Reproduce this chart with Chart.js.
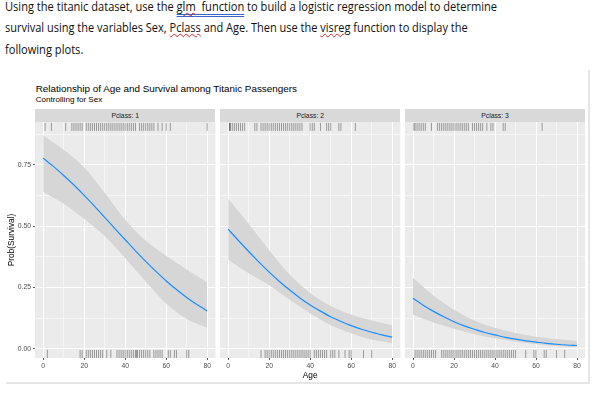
<!DOCTYPE html>
<html><head><meta charset="utf-8">
<script src="https://cdn.jsdelivr.net/npm/chart.js@4.4.1/dist/chart.umd.min.js"></script>
<style>
html,body{margin:0;padding:0;background:#fff;}
body{width:607px;height:394px;overflow:hidden;position:relative;font-family:"Liberation Sans",Arial,sans-serif}
.doc{position:absolute;left:5px;font-family:"Open Sans",sans-serif;font-size:12.6px;line-height:20px;color:#111;white-space:pre;transform-origin:0 0;display:inline-block}
.blue{text-decoration:underline double #3a64c8;text-decoration-thickness:1px;text-underline-offset:3px}
.red{text-decoration:underline wavy #e02020;text-decoration-thickness:1px;text-underline-offset:1px}
.ttl{position:absolute;left:35.7px;top:82.5px;font-size:9.9px;line-height:12px;color:#000;white-space:nowrap}
.sub{position:absolute;left:35.7px;top:95.2px;font-size:8.1px;line-height:10px;color:#000;white-space:nowrap}
.strip{position:absolute;top:109px;height:13px;line-height:13px;background:#d9d9d9;color:#1a1a1a;font-size:6.8px;text-align:center;white-space:nowrap}
canvas{position:absolute;left:0;top:100px}
.shadowB{position:absolute;left:6px;top:382px;width:584px;height:2px;background:#e6e6e6}
.shadowR{position:absolute;left:588px;top:70px;width:2px;height:314px;background:#e6e6e6}
</style></head><body>
<div class="doc" id="l1" data-w="492" style="top:-3.2px">Using the titanic dataset, use the <span class="blue"><span class="red">glm</span>  function</span> to build a logistic regression model to determine</div>
<div class="doc" id="l2" data-w="462.7" style="top:18.4px">survival using the variables Sex, <span class="red">Pclass</span> and Age. Then use the <span class="red">visreg</span> function to display the</div>
<div class="doc" id="l3" data-w="78.3" style="top:40.1px">following plots.</div>
<div class="shadowB"></div><div class="shadowR"></div>
<div class="ttl">Relationship of Age and Survival among Titanic Passengers</div>
<div class="sub">Controlling for Sex</div>
<div id="strips"></div>
<canvas id="c0" width="607" height="294"></canvas>
<canvas id="c1" width="607" height="294"></canvas>
<canvas id="c2" width="607" height="294"></canvas>
<script>
// ---------- data ----------
const panelNames = ['Pclass: 1', 'Pclass: 2', 'Pclass: 3'];
const fitAges = [0, 5, 10, 15, 20, 25, 30, 35, 40, 45, 50, 55, 60, 65, 70, 75, 80];
const fit1 = [0.777, 0.744, 0.707, 0.668, 0.626, 0.582, 0.536, 0.490, 0.445, 0.400, 0.357, 0.316, 0.277, 0.242, 0.210, 0.181, 0.155];
const fit2 = [0.488, 0.442, 0.397, 0.354, 0.313, 0.275, 0.240, 0.208, 0.179, 0.154, 0.131, 0.112, 0.095, 0.080, 0.068, 0.057, 0.048];
const fit3 = [0.207, 0.178, 0.153, 0.131, 0.111, 0.094, 0.080, 0.067, 0.057, 0.047, 0.040, 0.033, 0.028, 0.023, 0.019, 0.016, 0.014];
const bandAges = [0, 10, 20, 30, 40, 50, 60, 70, 80];
const upper1 = [0.870, 0.812, 0.740, 0.637, 0.527, 0.442, 0.380, 0.324, 0.272];
const lower1 = [0.640, 0.592, 0.530, 0.460, 0.370, 0.275, 0.185, 0.122, 0.086];
const upper2 = [0.611, 0.510, 0.402, 0.303, 0.228, 0.175, 0.140, 0.116, 0.097];
const lower2 = [0.364, 0.308, 0.260, 0.200, 0.144, 0.097, 0.064, 0.038, 0.023];
const upper3 = [0.290, 0.218, 0.160, 0.116, 0.086, 0.065, 0.050, 0.040, 0.032];
const lower3 = [0.139, 0.108, 0.082, 0.060, 0.043, 0.029, 0.019, 0.012, 0.007];
// rug: ages of survivors (top) and non-survivors (bottom)
const rugTop1 = [0.92, 4, 11, 14, 15, 16, 17, 18, 19, 21, 22, 23, 24, 25, 26, 27, 28, 29, 30, 31, 32, 33, 34, 35, 36, 37, 38, 39, 40, 41, 42, 43, 44, 45, 47, 48, 49, 50, 51, 52, 53, 54, 56, 58, 60, 62, 80];
const rugBot1 = [2, 18, 19, 21, 22, 23, 24, 25, 26, 27, 28, 29, 31, 33, 36, 37, 38, 39, 40, 41, 42, 43, 44, 45, 45.5, 46, 47, 48, 49, 50, 51, 52, 54, 55, 56, 57, 58, 61, 62, 64, 65, 70, 71];
const rugTop2 = [0.67, 0.83, 1, 2, 3, 4, 5, 6, 7, 8, 13, 14, 16, 17, 18, 19, 20, 21, 22, 23, 24, 25, 26, 27, 28, 29, 30, 31, 32, 33, 34, 35, 36, 40, 41, 42, 45, 48, 49, 50, 54, 55, 62];
const rugBot2 = [16, 18, 19, 20, 21, 22, 23, 24, 25, 26, 27, 28, 29, 30, 31, 32, 33, 34, 35, 36, 37, 38, 39, 40, 42, 43, 44, 45, 46, 47, 48, 50, 51, 52, 54, 57, 59, 60, 66, 70];
const rugTop3 = [0.42, 1, 2, 3, 4, 5, 6, 9, 12, 13, 14, 15, 16, 17, 18, 19, 20, 21, 22, 23, 24, 25, 26, 27, 29, 30, 31, 32, 33, 34, 36, 38, 39, 44, 45, 63];
const rugBot3 = [1, 2, 3, 4, 5, 6, 7, 8, 9, 10, 11, 14, 15, 16, 17, 18, 19, 20, 21, 22, 23, 24, 25, 26, 27, 28, 29, 30, 31, 32, 33, 34, 35, 36, 37, 38, 39, 40, 41, 42, 43, 44, 45, 46, 47, 48, 49, 50, 55, 59, 60, 64, 65, 70, 74];
const xMajor = [0, 20, 40, 60, 80];
const xMinor = [10, 30, 50, 70];
const yMajor = [0, 0.25, 0.5, 0.75];
const yMinor = [0.125, 0.375, 0.625, 0.875];
const yTickLabels = ['0.00', '0.25', '0.50', '0.75'];
const xTitle = 'Age', yTitle = 'Prob(Survival)';

// ---------- layout ----------
const W = 607, PANEL_W = 180.4, panelLeft = [35, 220, 404.8];
const PAD_TOP = 22, X_AXIS_H = 36, RUG_TOP = 0.905, RUG_BOTTOM = -0.0205;
const FONT = '"Liberation Sans", Arial, sans-serif';
const fits = [fit1, fit2, fit3], ups = [upper1, upper2, upper3], los = [lower1, lower2, lower3];
const rugTops = [rugTop1, rugTop2, rugTop3], rugBots = [rugBot1, rugBot2, rugBot3];

const strips = document.getElementById('strips');
panelNames.forEach((n, i) => {
  const d = document.createElement('div');
  d.className = 'strip';
  d.style.left = panelLeft[i] + 'px';
  d.style.width = PANEL_W + 'px';
  d.textContent = n;
  strips.appendChild(d);
});

const panelBg = { id: 'panelBg', beforeDraw(c) {
  const a = c.chartArea, ctx = c.ctx; ctx.save(); ctx.fillStyle = '#ebebeb';
  ctx.fillRect(a.left, a.top, a.right - a.left, a.bottom - a.top); ctx.restore(); } };

const pts = (xs, ys) => xs.map((x, j) => ({ x, y: ys[j] }));

for (let i = 0; i < 3; i++) {
  const isFirst = i === 0;
  new Chart(document.getElementById('c' + i), {
    type: 'line',
    data: { datasets: [
      // datasets are drawn from last to first, so the fit line is first to sit on top
      { data: pts(fitAges, fits[i]), fill: false, borderColor: '#1a8cff', borderWidth: 1.2, pointRadius: 0, cubicInterpolationMode: 'monotone' },
      { data: rugTops[i].map(a => ({ x: a, y: RUG_TOP })), showLine: false, pointStyle: 'line', rotation: 90, pointRadius: 4, borderColor: 'rgba(0,0,0,0.45)', borderWidth: 0.8 },
      { data: rugBots[i].map(a => ({ x: a, y: RUG_BOTTOM })), showLine: false, pointStyle: 'line', rotation: 90, pointRadius: 4, borderColor: 'rgba(0,0,0,0.45)', borderWidth: 0.8 },
      { data: pts(bandAges, ups[i]), fill: '+1', backgroundColor: '#d6d6d6', borderColor: 'rgba(0,0,0,0)', borderWidth: 0, pointRadius: 0, cubicInterpolationMode: 'monotone' },
      { data: pts(bandAges, los[i]), fill: false, borderColor: 'rgba(0,0,0,0)', borderWidth: 0, pointRadius: 0, cubicInterpolationMode: 'monotone' }
    ] },
    options: {
      responsive: false, animation: false, events: [],
      layout: { padding: { left: isFirst ? 0 : panelLeft[i], right: W - panelLeft[i] - PANEL_W, top: PAD_TOP, bottom: 0 } },
      plugins: { legend: { display: false }, tooltip: { enabled: false } },
      scales: {
        x: {
          type: 'linear', min: -4, max: 84,
          afterBuildTicks: s => { s.ticks = xMajor.concat(xMinor).sort((a, b) => a - b).map(v => ({ value: v })); },
          afterFit: s => { s.height = X_AXIS_H; },
          border: { display: false },
          grid: { color: '#ffffff', lineWidth: c => xMajor.includes(c.tick.value) ? 1 : 0.5, drawTicks: true, tickLength: 2,
                  tickColor: c => xMajor.includes(c.tick.value) ? '#333333' : 'rgba(0,0,0,0)', tickWidth: 0.8 },
          ticks: { padding: 2, color: '#4d4d4d', font: { size: 6.8, family: FONT }, maxRotation: 0, autoSkip: false,
                   callback: v => xMajor.includes(v) ? String(v) : '' },
          title: { display: i === 1, text: xTitle, color: '#000', font: { size: 8.3, family: FONT }, padding: { top: 0, bottom: 13.5 } }
        },
        y: {
          type: 'linear', min: -0.037, max: 0.925,
          afterBuildTicks: s => { s.ticks = yMajor.concat(yMinor).sort((a, b) => a - b).map(v => ({ value: v })); },
          afterFit: s => { s.width = isFirst ? 35 : 0; },
          border: { display: false },
          grid: { color: '#ffffff', lineWidth: c => yMajor.includes(c.tick.value) ? 1 : 0.5, drawTicks: isFirst, tickLength: 2,
                  tickColor: c => yMajor.includes(c.tick.value) ? '#333333' : 'rgba(0,0,0,0)', tickWidth: 0.8 },
          ticks: { display: isFirst, padding: 2, color: '#4d4d4d', font: { size: 6.8, family: FONT },
                   callback: v => { const k = yMajor.indexOf(v); return k >= 0 ? yTickLabels[k] : ''; } },
          title: { display: isFirst, text: yTitle, color: '#000', font: { size: 8.3, family: FONT }, padding: { top: 6.5, bottom: 0 } }
        }
      }
    },
    plugins: [panelBg]
  });
}

function fitDoc() {
  document.querySelectorAll('.doc').forEach(el => {
    el.style.transform = 'none';
    const w = el.getBoundingClientRect().width;
    el.style.transform = 'scaleX(' + (parseFloat(el.dataset.w) / w) + ')';
  });
}
fitDoc();
if (document.fonts && document.fonts.ready) document.fonts.ready.then(fitDoc);
</script>
</body></html>
